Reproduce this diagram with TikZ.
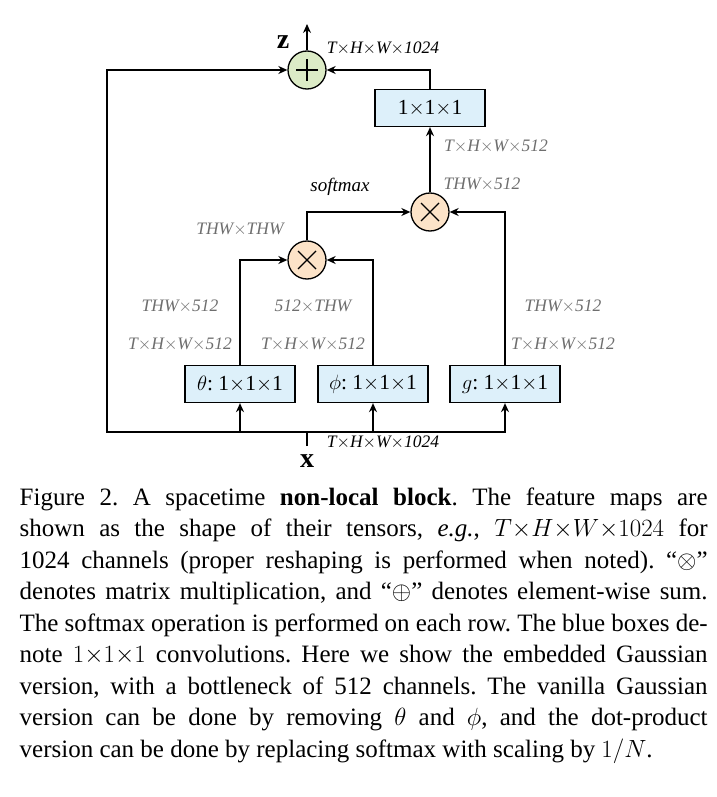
\documentclass[tikz,border=0pt]{standalone}
\usepackage{fontspec}
\setmainfont{Liberation Serif}
\usetikzlibrary{arrows.meta}
\definecolor{boxblue}{HTML}{DDF0FA}
\definecolor{sumgreen}{HTML}{DCEBC6}
\definecolor{mulpeach}{HTML}{FCE3C8}
\definecolor{dimgray}{HTML}{6E6E6E}
\frenchspacing
\begin{document}
\begin{tikzpicture}[x=1pt, y=-1pt, line width=1.3pt, >={Stealth[length=9pt,width=8pt]}]
  \tikzstyle{conv}=[draw, fill=boxblue, minimum width=110pt, minimum height=37pt, inner sep=0pt, font=\fontsize{21.5}{22}\selectfont]
  \tikzstyle{mul}=[draw, circle, fill=mulpeach, minimum size=38pt, inner sep=0pt,
    path picture={\draw ([shift={(-9pt,-9pt)}]path picture bounding box.center) -- ([shift={(9pt,9pt)}]path picture bounding box.center);
      \draw ([shift={(-9pt,9pt)}]path picture bounding box.center) -- ([shift={(9pt,-9pt)}]path picture bounding box.center);}]
  \tikzstyle{add}=[draw, circle, fill=sumgreen, minimum size=38pt, inner sep=0pt,
    path picture={\draw ([xshift=-11pt]path picture bounding box.center) -- ([xshift=11pt]path picture bounding box.center);
      \draw ([yshift=-11pt]path picture bounding box.center) -- ([yshift=11pt]path picture bounding box.center);}]
  \tikzstyle{dim}=[text=dimgray, font=\fontsize{17.5}{18}\selectfont\itshape, inner sep=0pt]
  \useasboundingbox (0,0) rectangle (716,797);
  % blocks
  \node[add] (sum) at (307,70) {};
  \node[conv] (proj) at (430,108) {1$\times$1$\times$1};
  \node[mul] (m2) at (430,212) {};
  \node[mul] (m1) at (307,260) {};
  \foreach \name/\xpos/\txt in {theta/240/{$\theta$: 1$\times$1$\times$1}, phi/373/{$\phi$: 1$\times$1$\times$1}, g/505/{$g$: 1$\times$1$\times$1}}
    \node[conv] (\name) at (\xpos,384) {\txt};
  \coordinate (xin) at (307,432);
  \coordinate (xtip) at (307,446);
  \coordinate (zout) at (307,24);
  \coordinate (lc) at (107,70);
  % connectors
  \draw (xtip) -- (xin);
  \draw[->] (xin) -| (lc) -- (sum);
  \foreach \blk in {theta, phi, g}
    \draw[->] (xin) -| (\blk);
  \draw[->] (theta) |- (m1);
  \draw[->] (phi) |- (m1);
  \draw[->] (m1) |- (m2);
  \draw[->] (g) |- (m2);
  \draw[->] (m2) -- (proj);
  \draw[->] (proj) |- (sum);
  \draw[->] (sum) -- (zout);
  % labels
  \node[font=\fontsize{28}{28}\selectfont\bfseries] (zlab) at (283,42) {z};
  \node[font=\fontsize{28}{28}\selectfont\bfseries] (xlab) at (307,461) {x};
  \node[dim, text=black] at (383,48) {T$\times$H$\times$W$\times$1024};
  \node[dim, text=black] at (383,442) {T$\times$H$\times$W$\times$1024};
  \node[dim] at (496,146) {T$\times$H$\times$W$\times$512};
  \node[dim] at (482,184) {THW$\times$512};
  \node[font=\fontsize{19}{20}\selectfont\itshape, inner sep=0pt] at (340,187) {softmax};
  \node[dim] at (240,229) {THW$\times$THW};
  \node[dim] at (180,306) {THW$\times$512};
  \node[dim] at (313,306) {512$\times$THW};
  \node[dim] at (563,306) {THW$\times$512};
  \foreach \xpos in {180,313,563}
    \node[dim] at (\xpos,344) {T$\times$H$\times$W$\times$512};
  % caption
  \begin{scope}[every node/.style={anchor=base west, inner sep=0pt, font=\fontsize{25}{31}\selectfont}]
    \node at (19,505) {\makebox[688pt][s]{Figure 2. A spacetime \textbf{non-local block}. The feature maps are}};
    \node at (19,536) {\makebox[688pt][s]{shown as the shape of their tensors, \textit{e.g.}, $T{\times}H{\times}W{\times}1024$ for}};
    \node at (19,568) {\makebox[688pt][s]{1024 channels (proper reshaping is performed when noted). ``$\otimes$''}};
    \node at (19,599) {\makebox[688pt][s]{denotes matrix multiplication, and ``$\oplus$'' denotes element-wise sum.}};
    \node at (19,631) {\makebox[688pt][s]{The softmax operation is performed on each row. The blue boxes de-}};
    \node at (19,662) {\makebox[688pt][s]{note $1{\times}1{\times}1$ convolutions. Here we show the embedded Gaussian}};
    \node at (19,694) {\makebox[688pt][s]{version, with a bottleneck of 512 channels. The vanilla Gaussian}};
    \node at (19,725) {\makebox[688pt][s]{version can be done by removing $\theta$ and $\phi$, and the dot-product}};
    \node at (19,757) {version can be done by replacing softmax with scaling by $1/N$.};
  \end{scope}
\end{tikzpicture}
\end{document}
